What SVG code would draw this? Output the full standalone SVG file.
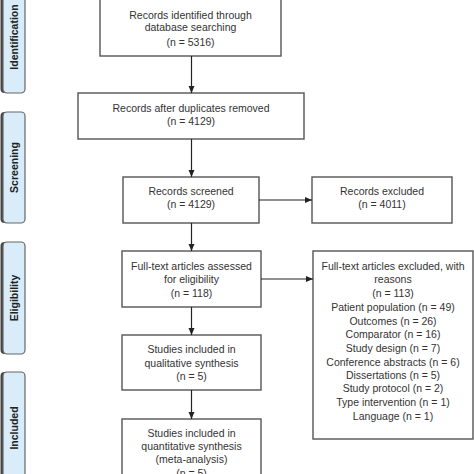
<svg xmlns="http://www.w3.org/2000/svg" width="474" height="474" viewBox="0 0 474 474">
<defs>
<marker id="ah" markerWidth="8" markerHeight="8" refX="7" refY="4" orient="auto" markerUnits="userSpaceOnUse">
<path d="M0,1 L7,4 L0,7 Z" fill="#222"/>
</marker>
<style>
.box{fill:#fff;stroke:#555;stroke-width:1.4}
.side{fill:#d9ecfa;stroke:#666;stroke-width:1.2}
.shadow{fill:#444}
.t{font-family:"Liberation Sans",Arial,sans-serif;font-size:10.5px;fill:#333;text-anchor:middle}
.s{font-family:"Liberation Sans",Arial,sans-serif;font-size:10.5px;font-weight:bold;fill:#222;text-anchor:middle}
.c{stroke:#222;stroke-width:1.2;fill:none;marker-end:url(#ah)}
</style>
</defs>
<rect width="474" height="474" fill="#fff"/>
<g id="side-identification">
<rect class="shadow" x="0.5" y="-19" width="22" height="112" rx="4"/>
<rect class="side" x="3" y="-19" width="22" height="112" rx="4"/>
<text class="s" transform="translate(18,37) rotate(-90)">Identification</text>
</g>
<g id="side-screening">
<rect class="shadow" x="0.5" y="112" width="22" height="111" rx="4"/>
<rect class="side" x="3" y="112" width="22" height="111" rx="4"/>
<text class="s" transform="translate(18,167.5) rotate(-90)">Screening</text>
</g>
<g id="side-eligibility">
<rect class="shadow" x="0.5" y="242" width="22" height="112" rx="4"/>
<rect class="side" x="3" y="242" width="22" height="112" rx="4"/>
<text class="s" transform="translate(18,298) rotate(-90)">Eligibility</text>
</g>
<g id="side-included">
<rect class="shadow" x="0.5" y="372" width="22" height="112" rx="4"/>
<rect class="side" x="3" y="372" width="22" height="112" rx="4"/>
<text class="s" transform="translate(18,428) rotate(-90)">Included</text>
</g>
<g id="identified">
<rect class="box" x="100" y="-10" width="181" height="66"/>
<text class="t" x="190.5" y="18.5">Records identified through</text>
<text class="t" x="190.5" y="31">database searching</text>
<text class="t" x="190.5" y="45.8">(n = 5316)</text>
</g>
<g id="deduplicated">
<rect class="box" x="78" y="93" width="226" height="46"/>
<text class="t" x="191" y="112">Records after duplicates removed</text>
<text class="t" x="191" y="124.5">(n = 4129)</text>
</g>
<g id="screened">
<rect class="box" x="123" y="177" width="136" height="46"/>
<text class="t" x="191" y="195">Records screened</text>
<text class="t" x="191" y="207.5">(n = 4129)</text>
</g>
<g id="excluded">
<rect class="box" x="312" y="177" width="140" height="46"/>
<text class="t" x="382" y="195">Records excluded</text>
<text class="t" x="382" y="207.5">(n = 4011)</text>
</g>
<g id="fulltext">
<rect class="box" x="122" y="251" width="139" height="56"/>
<text class="t" x="191.5" y="270">Full-text articles assessed</text>
<text class="t" x="191.5" y="283">for eligibility</text>
<text class="t" x="191.5" y="297">(n = 118)</text>
</g>
<g id="fulltext-excluded">
<rect class="box" x="313" y="251" width="160" height="188"/>
<text class="t" x="393" y="269.5">Full-text articles excluded, with</text>
<text class="t" x="393" y="283">reasons</text>
<text class="t" x="393" y="296.5">(n = 113)</text>
<text class="t" x="393" y="311">Patient population (n = 49)</text>
<text class="t" x="393" y="324.5">Outcomes (n = 26)</text>
<text class="t" x="393" y="338">Comparator (n = 16)</text>
<text class="t" x="393" y="351.5">Study design (n = 7)</text>
<text class="t" x="393" y="365.5">Conference abstracts (n = 6)</text>
<text class="t" x="393" y="378.5">Dissertations (n = 5)</text>
<text class="t" x="393" y="392">Study protocol (n = 2)</text>
<text class="t" x="393" y="406">Type intervention (n = 1)</text>
<text class="t" x="393" y="419.5">Language (n = 1)</text>
</g>
<g id="qualitative">
<rect class="box" x="122" y="335" width="139" height="55"/>
<text class="t" x="191.5" y="353">Studies included in</text>
<text class="t" x="191.5" y="366.5">qualitative synthesis</text>
<text class="t" x="191.5" y="380">(n = 5)</text>
</g>
<g id="quantitative">
<rect class="box" x="122" y="419" width="139" height="70"/>
<text class="t" x="191.5" y="437">Studies included in</text>
<text class="t" x="191.5" y="450">quantitative synthesis</text>
<text class="t" x="191.5" y="463">(meta-analysis)</text>
<text class="t" x="191.5" y="477">(n = 5)</text>
</g>
<g id="connectors">
<line class="c" x1="191.5" y1="56" x2="191.5" y2="93"/>
<line class="c" x1="191.5" y1="139" x2="191.5" y2="177"/>
<line class="c" x1="191.5" y1="223" x2="191.5" y2="251"/>
<line class="c" x1="191.5" y1="307" x2="191.5" y2="335"/>
<line class="c" x1="191.5" y1="390" x2="191.5" y2="419"/>
<line class="c" x1="259" y1="200" x2="312" y2="200"/>
<line class="c" x1="261" y1="279" x2="313" y2="279"/>
</g>
</svg>
